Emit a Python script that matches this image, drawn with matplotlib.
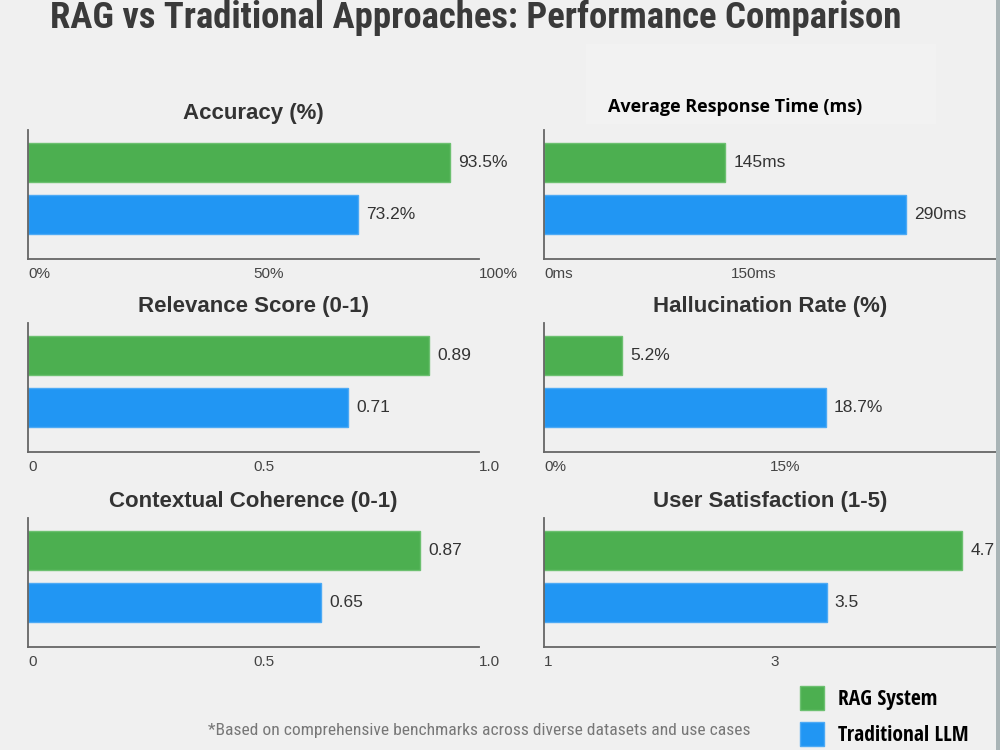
import matplotlib.pyplot as plt
from matplotlib.patches import Rectangle

# panel order: left/right, top to bottom
METRICS = [
    "Accuracy (%)",
    "Average Response Time (ms)",
    "Relevance Score (0-1)",
    "Hallucination Rate (%)",
    "Contextual Coherence (0-1)",
    "User Satisfaction (1-5)",
]
RAG_VALUES = [93.5, 145, 0.89, 5.2, 0.87, 4.7]
TRAD_VALUES = [73.2, 290, 0.71, 18.7, 0.65, 3.5]
VALUE_FORMATS = ["{:.1f}%", "{:.0f}ms", "{:.2f}", "{:.1f}%", "{:.2f}", "{:.1f}"]
X_LIMITS = [(0, 100), (0, 362), (0, 1), (0, 30), (0, 1), (1, 5)]
X_TICKS = [[0, 50, 100], [0, 150], [0, 0.5, 1.0], [0, 15], [0, 0.5, 1.0], [1, 3]]
X_TICK_LABELS = [
    ["0%", "50%", "100%"],
    ["0ms", "150ms"],
    ["0", "0.5", "1.0"],
    ["0%", "15%"],
    ["0", "0.5", "1.0"],
    ["1", "3"],
]
SERIES = ["RAG System", "Traditional LLM"]

GREEN = "#4caf50"
BLUE = "#2196f3"
BG = "#f0f0f0"
TEXT = "#333333"

SANS = ["Liberation Sans", "DejaVu Sans"]
NARROW = ["Roboto Condensed", "Archivo Narrow", "DejaVu Sans"]
LEGEND_FONT = ["Open Sans Condensed", "Roboto Condensed", "Archivo Narrow", "DejaVu Sans"]

# axes boxes in pixels of a 1000x750 canvas
COL_X = [28, 544]
COL_W = [451, 452]
ROW_TOP = [130, 323, 518]
AX_H = 129


def main():
    fig = plt.figure(figsize=(10, 7.5), dpi=100, facecolor=BG)

    # faint patch behind the pasted-over title on the right
    fig.patches.append(Rectangle((586 / 1000, 1 - 124 / 750), 350 / 1000, 80 / 750,
                                 transform=fig.transFigure, facecolor="#f2f2f2",
                                 edgecolor="none", zorder=0))

    handles = None
    for i, title in enumerate(METRICS):
        row, col = divmod(i, 2)
        left = COL_X[col] / 1000
        bottom = 1 - (ROW_TOP[row] + AX_H) / 750
        ax = fig.add_axes([left, bottom, COL_W[col] / 1000, AX_H / 750])
        ax.set_facecolor(BG)
        ax.patch.set_alpha(0)

        rag = ax.barh(1, RAG_VALUES[i], height=0.74, color=GREEN,
                      edgecolor="#6cc070", linewidth=1)
        trad = ax.barh(0, TRAD_VALUES[i], height=0.74, color=BLUE,
                       edgecolor="#4daaf5", linewidth=1)
        if handles is None:
            handles = [rag, trad]

        ax.set_xlim(*X_LIMITS[i])
        ax.set_ylim(-0.86, 1.63)
        ax.set_yticks([])
        ax.set_xticks(X_TICKS[i])
        ax.set_xticklabels(X_TICK_LABELS[i], fontsize=11, color="#444444", family=SANS)
        for lab in ax.get_xticklabels():
            lab.set_horizontalalignment("left")
        ax.tick_params(axis="x", length=0, pad=6)

        for side in ["top", "right"]:
            ax.spines[side].set_visible(False)
        for side in ["left", "bottom"]:
            ax.spines[side].set_color("#666666")
            ax.spines[side].set_linewidth(1.3)

        fmt = VALUE_FORMATS[i]
        for ypos, val in [(1, RAG_VALUES[i]), (0, TRAD_VALUES[i])]:
            ax.annotate(fmt.format(val), (val, ypos), xytext=(6, 0),
                        textcoords="offset points", va="center", ha="left",
                        fontsize=12.5, color=TEXT, family=SANS)

        if i == 1:
            fig.text(735 / 1000, 1 - 107 / 750, title, ha="center", va="center",
                     fontsize=13, fontweight="bold", color="black",
                     family=["Open Sans", "DejaVu Sans"])
        else:
            ax.set_title(title, fontsize=16, fontweight="bold", color=TEXT,
                         family=SANS, pad=8)

    fig.text(0.05, 1 - 18 / 750, "RAG vs Traditional Approaches: Performance Comparison",
             ha="left", va="center", fontsize=26.5, fontweight="bold", color="#3a3a3a",
             family=NARROW)

    fig.text(0.479, 1 - 731 / 750,
             "*Based on comprehensive benchmarks across diverse datasets and use cases",
             ha="center", va="center", fontsize=12.6, color="#777777", family=NARROW)

    fig.legend(handles, SERIES, loc="upper left", bbox_to_anchor=(0.781, 1 - 667 / 750),
               frameon=False, prop={"family": LEGEND_FONT, "weight": "bold", "size": 15.5},
               handlelength=1.1, handleheight=1.3, handletextpad=0.65, labelspacing=0.55)

    # grey strip on the right edge
    fig.patches.append(Rectangle((0.996, 0), 0.004, 1, transform=fig.transFigure,
                                 facecolor="#a9b4b6", edgecolor="none", zorder=10))

    fig.savefig("out.png", dpi=100, facecolor=BG)


if __name__ == "__main__":
    main()
